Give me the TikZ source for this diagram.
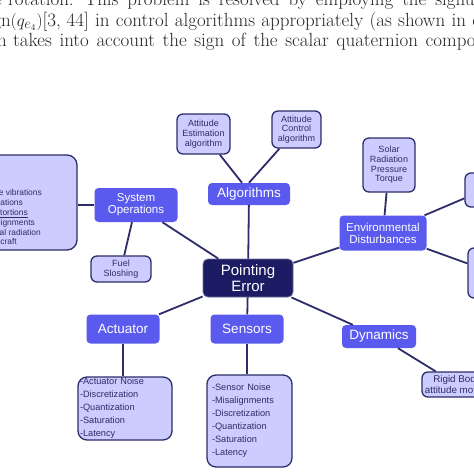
\documentclass[tikz,border=0pt]{standalone}
\usepackage{fontspec}
\newfontfamily\arialf{Liberation Sans}
\definecolor{navy}{RGB}{28,28,100}
\definecolor{midblue}{RGB}{90,90,238}
\definecolor{lav}{RGB}{204,204,255}
\definecolor{edge}{RGB}{45,45,105}
\begin{document}
\begin{tikzpicture}[x=1pt,y=-1pt,
  conn/.style={draw=edge,line width=1.8pt},
  toptext/.style={inner sep=0pt,text=black!85,font=\fontsize{19}{21}\selectfont},
  hub/.style={fill=navy,draw=edge!70!white,line width=0.8pt,rounded corners=5pt,text=white,align=center,inner sep=0pt,font=\arialf\fontsize{15}{16}\selectfont},
  mainbox/.style={fill=midblue,rounded corners=4pt,text=white,align=center,inner sep=0pt},
  onefont/.style={font=\arialf\fontsize{13.5}{14}\selectfont},
  twofont/.style={font=\arialf\fontsize{11.5}{12.2}\selectfont},
  leafbox/.style={fill=lav,draw=edge,line width=1.3pt,rounded corners=6pt,align=center,inner sep=0pt,text=edge,font=\arialf\fontsize{9}{9.7}\selectfont},
  listbox/.style={leafbox,rounded corners=9pt,align=left,font=\arialf\fontsize{9.2}{13}\selectfont},
  lbtext/.style={anchor=base east,inner sep=0pt,text=edge,font=\arialf\fontsize{8.4}{9}\selectfont}
]
\useasboundingbox (0,0) rectangle (474,474);
\clip (0,0) rectangle (474,474);
\fill[white] (0,0) rectangle (474,474);

% top text
\node[toptext,anchor=base east] (t1a) at (2,5.5) {the};
\node[toptext,anchor=base west] (t1b) at (8,5.5) {\spaceskip=8.9pt rotation. This problem is resolved by employing the signum function};
\node[toptext,anchor=base east] (t2a) at (89,26) {sgn$(q_{e_4})$[3, 44]};
\node[toptext,anchor=base west] (t2b) at (95,26) {\spaceskip=6.3pt in control algorithms appropriately (as shown in chapter};
\node[toptext,anchor=base east] (t3a) at (7,46.5) {function};
\node[toptext,anchor=base west] (t3b) at (13,46.5) {\spaceskip=7.6pt takes into account the sign of the scalar quaternion component};

% hub
\node[hub,minimum width=90pt,minimum height=38pt] (pe) at (248,278) {Pointing\\Error};

% main nodes
\node[mainbox,onefont,minimum width=82pt,minimum height=22pt] (alg) at (249,194) {Algorithms};
\node[mainbox,twofont,minimum width=83pt,minimum height=34pt] (sys) at (136,205) {System\\Operations};
\node[mainbox,twofont,minimum width=87pt,minimum height=35pt] (env) at (383,233) {Environmental\\Disturbances};
\node[mainbox,onefont,minimum width=73pt,minimum height=29pt] (act) at (123,329) {Actuator};
\node[mainbox,onefont,minimum width=73pt,minimum height=29pt] (sen) at (247,329) {Sensors};
\node[mainbox,onefont,minimum width=74pt,minimum height=23pt] (dyn) at (379,336.5) {Dynamics};

% leaves
\node[leafbox,minimum width=53pt,minimum height=40pt] (est) at (203.5,134) {Attitude\\Estimation\\algorithm};
\node[leafbox,minimum width=49pt,minimum height=37pt] (ctl) at (296.5,129.5) {Attitude\\Control\\algorithm};
\node[leafbox,minimum width=52pt,minimum height=54pt] (sol) at (389,165) {Solar\\Radiation\\Pressure\\Torque};
\node[leafbox,minimum width=60pt,minimum height=26pt] (fuel) at (121,269) {Fuel\\Sloshing};
\node[leafbox,minimum width=38pt,minimum height=34pt] (ur1) at (484,190) {};
\node[leafbox,minimum width=52pt,minimum height=50pt] (ur2) at (494,273) {};
\node[leafbox,font=\arialf\fontsize{9.8}{10.5}\selectfont,minimum width=70pt,minimum height=25pt] (rigid) at (457,384.5) {Rigid Body\\attitude motion};
\node[leafbox,rounded corners=10pt,minimum width=117pt,minimum height=95pt] (lb) at (18.5,202.5) {};

\node[lbtext] (l1) at (42,195) {-Flexible vibrations};
\node[lbtext] (l2) at (23,205) {-Deformations};
\node[lbtext] (l3) at (28,215.5) {-Thermal \underline{distortions}};
\node[lbtext] (l4) at (35,225.5) {-Misalignments};
\node[lbtext] (l5) at (41,235.5) {-Thermal radiation};
\node[lbtext] (l6) at (17,244.5) {-Spacecraft};

\node[listbox,inner xsep=2pt,text width=90pt,minimum height=63pt] (actbox) at (125,408.5)
  {-Actuator Noise\\-Discretization\\-Quantization\\-Saturation\\-Latency};
\node[listbox,inner xsep=5pt,text width=75pt,minimum height=92pt] (senbox) at (249.5,421)
  {-Sensor Noise\\-Misalignments\\-Discretization\\-Quantization\\-Saturation\\-Latency};

% connectors
\draw[conn] (alg) -- (pe);
\draw[conn] (sys) -- (pe);
\draw[conn] (env) -- (pe);
\draw[conn] (act) -- (pe);
\draw[conn] (sen) -- (pe);
\draw[conn] (dyn) -- (pe);
\draw[conn] (est) -- ([xshift=-7pt]alg.north);
\draw[conn] (ctl) -- (alg.north);
\draw[conn] (sol) -- (env);
\draw[conn] (env) -- (ur1);
\draw[conn] (env) -- (ur2);
\draw[conn] (fuel) -- (sys);
\draw[conn] (sys.west) -- (sys.west -| lb.east);
\draw[conn] (act.south) -- (act.south |- actbox.north);
\draw[conn] (sen.south) -- (sen.south |- senbox.north);
\draw[conn] (dyn) -- (rigid);
\end{tikzpicture}
\end{document}
